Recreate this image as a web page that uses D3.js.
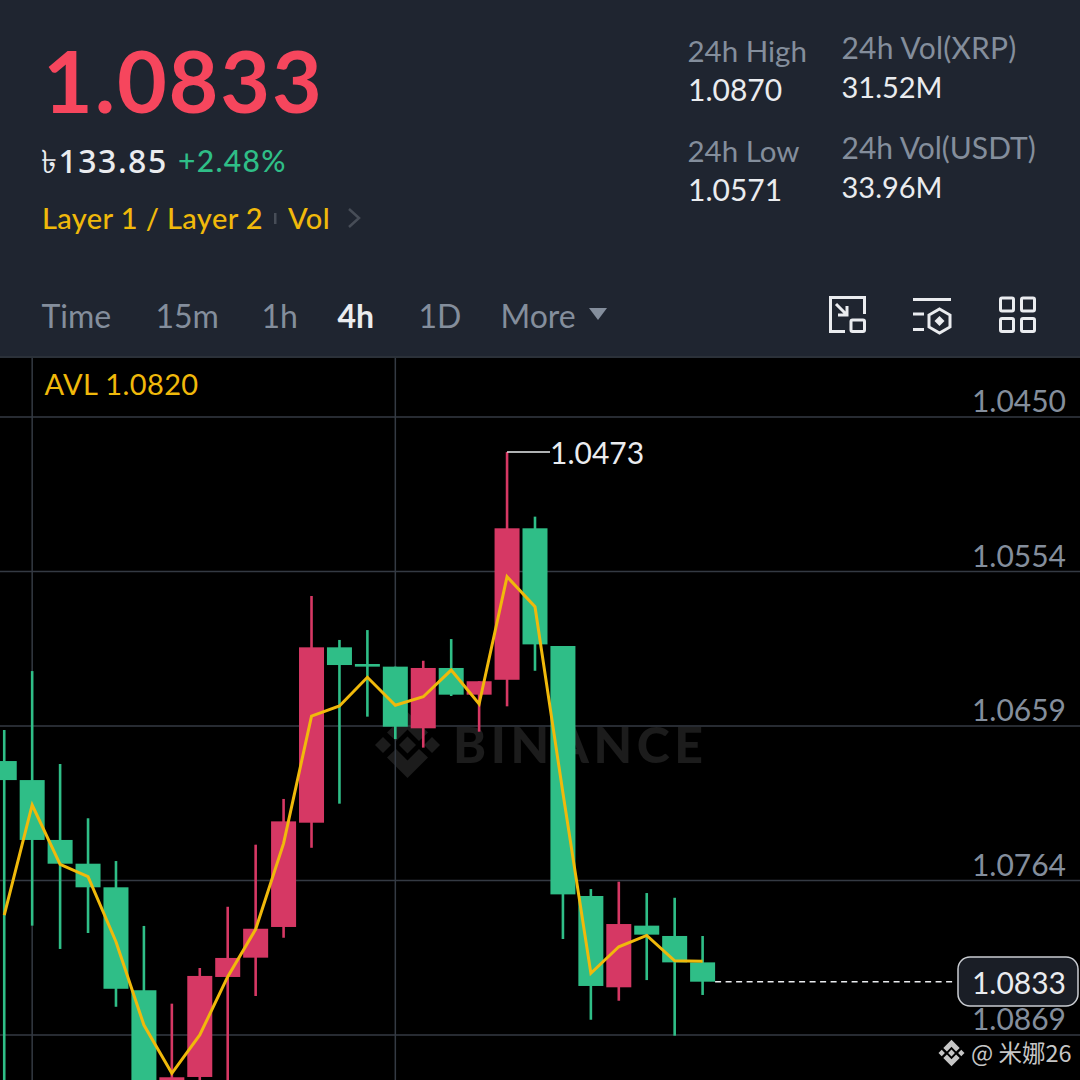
<!DOCTYPE html>
<html>
<head>
<meta charset="utf-8">
<script src="https://cdn.jsdelivr.net/npm/d3@7"></script>
<style>
  html, body { margin: 0; padding: 0; background: #000; }
  svg { display: block; }
  text { font-family: Lato, "Noto Sans", sans-serif; }
</style>
</head>
<body>
<svg id="chart"></svg>
<script>
// candle index, one per 4h bar
const categories = d3.range(26).map(i => "c" + i);
const opens = [1.06836,1.06965,1.07371,1.07532,1.07692,1.08390,1.0925,1.08978,1.08300,1.08169,1.07961,1.07254,1.06065,1.06178,1.06196,1.06614,1.06205,1.06386,1.06285,1.05258,1.06056,1.07751,1.08370,1.07952,1.08022,1.08201];
const closes = [1.06965,1.07371,1.07532,1.07692,1.08380,1.0910,1.08980,1.08293,1.08171,1.07973,1.07245,1.06065,1.06185,1.06196,1.06603,1.06205,1.06386,1.06295,1.05258,1.06045,1.07740,1.08361,1.07941,1.08013,1.08201,1.08332];
const highs = [1.0905,1.07952,1.08110,1.08002,1.08502,1.0925,1.0940,1.0912,1.0915,1.08429,1.08034,1.07424,1.07125,1.06535,1.06687,1.06745,1.06395,1.06637,1.06465,1.06224,1.08043,1.08590,1.08461,1.08321,1.08698,1.08422];
const lows = [1.06626,1.06226,1.06856,1.07224,1.07514,1.07954,1.08481,1.08239,1.07824,1.07403,1.07093,1.05717,1.06015,1.05948,1.06196,1.06156,1.06009,1.06295,1.04741,1.05179,1.06056,1.07704,1.07654,1.07731,1.07763,1.08022];
const avl = [1.07880,1.07134,1.07536,1.07620,1.08061,1.08626,1.08953,1.08693,1.08298,1.07977,1.07394,1.06531,1.06463,1.06268,1.06458,1.06400,1.06219,1.06449,1.05586,1.05790,1.07053,1.08275,1.08095,1.08018,1.08190,1.08194];

const gridValues = [1.0450,1.05548,1.06595,1.07643,1.0869];
const tickLabels = ["1.0450","1.0554","1.0659","1.0764","1.0869"];
const vGrid = ["c1","c14"];
const lastPrice = 1.08332;

const tabs = ["Time","15m","1h","4h","1D","More"];
const tabX = [42,156,262,338,419,501];

const width = 1080;
const height = 1080;
const chartTop = 358;
const red = "#d63864";
const green = "#2fbe87";
const yellow = "#f0b90b";
const gray = "#848e9c";
const white = "#eaecef";

const svg = d3.select("#chart").attr("width", width).attr("height", height);

const x = d3.scaleBand().domain(categories).range([-9.66, 716.5]).paddingInner(0.105).paddingOuter(0.05);
const y = d3.scaleLinear().domain([1.0450, 1.0869]).range([416.5, 1034.5]);
const cx = c => x(c) + x.bandwidth() / 2;

// panels
svg.append("rect").attr("width", width).attr("height", height).attr("fill", "#000");
svg.append("rect").attr("width", width).attr("height", chartTop - 2).attr("fill", "#1f2530");
svg.append("rect").attr("y", chartTop - 2).attr("width", width).attr("height", 2).attr("fill", "#2b3139");

const label = (txt, px, py, size, color, weight, anchor, spacing) =>
  svg.append("text").attr("x", px).attr("y", py).attr("font-size", size)
     .attr("fill", color).attr("font-weight", weight || 400)
     .attr("letter-spacing", spacing || 0)
     .attr("text-anchor", anchor || "start").text(txt);

// header
label("1.0833", 43, 113, 86, "#f6465d", 700, "start", 1.8);
label("৳133.85", 41, 173, 32, white, 500, "start", 1.5).style("font-family", "'Noto Sans', Lato, sans-serif");
label("+2.48%", 178, 172, 30, green, 500, "start", 1.3);
label("Layer 1 / Layer 2", 42, 229, 29, yellow, 500, "start", 0.4);
svg.append("rect").attr("x", 274).attr("y", 213).attr("width", 2.5).attr("height", 11).attr("fill", "#474d57");
label("Vol", 288, 229, 29, yellow, 500, "start", 0.3);
svg.append("path").attr("d", "M349 209L359 218L349 227").attr("fill", "none").attr("stroke", "#474d57").attr("stroke-width", 2.5);

label("24h High", 687.5, 62, 29.5, gray);
label("1.0870", 688, 101, 30, white);
label("24h Low", 687.5, 162, 29.5, gray);
label("1.0571", 688, 201, 30, white);
label("24h Vol(XRP)", 841.5, 59, 30, gray, 400, "start", 0.2);
label("31.52M", 841.5, 98, 29, white);
label("24h Vol(USDT)", 841.5, 159, 30, gray);
label("33.96M", 841.5, 198, 29, white);

tabs.forEach((t, i) => {
  const on = t === "4h";
  label(t, tabX[i] - 0.5, 328, 32, on ? white : gray, on ? 700 : 400);
});
svg.append("path").attr("d", "M589 308H607L598 320Z").attr("fill", gray);

// toolbar icons
const icons = svg.append("g").attr("fill", "none").attr("stroke", white).attr("stroke-width", 3);
icons.append("path").attr("d", "M845 331.5H830.5V297.5H864.5V314");
icons.append("rect").attr("x", 851).attr("y", 320).attr("width", 13.5).attr("height", 11.5).attr("rx", 1.5);
icons.append("path").attr("d", "M836 304L847 315M847 306V315H838");
icons.append("path").attr("d", "M913 299.5H951M913 314H924M913 329.5H924");
icons.append("path").attr("d", "M939.5 309L950 315V327L939.5 333L929 327V315Z");
icons.append("path").attr("d", "M939.5 316L944.5 321L939.5 326L934.5 321Z").attr("fill", white).attr("stroke", "none");
[[1000.5,298],[1021.5,298],[1000.5,318.5],[1021.5,318.5]].forEach(p => {
  icons.append("rect").attr("x", p[0]).attr("y", p[1]).attr("width", 13).attr("height", 13).attr("rx", 1.5);
});

// chart area is clipped, the candles run past the bottom edge
svg.append("clipPath").attr("id", "plot").append("rect").attr("y", chartTop).attr("width", width).attr("height", height - chartTop);
const plot = svg.append("g").attr("clip-path", "url(#plot)");

// watermark sits under the grid
const mark = plot.append("g").attr("fill", "#1c1c1c");
const logo = (g) => {
  g.append("path").attr("d", "M0 -33L20.5 -12.5L11.5 -4L0 -15.5L-11.5 -4L-20.5 -12.5Z");
  g.append("path").attr("d", "M0 33L20.5 12.5L11.5 4L0 15.5L-11.5 4L-20.5 12.5Z");
  g.append("path").attr("d", "M0 -8.5L8.5 0L0 8.5L-8.5 0Z");
  g.append("path").attr("d", "M-24.5 -8L-16.5 0L-24.5 8L-32.5 0Z");
  g.append("path").attr("d", "M24.5 -8L32.5 0L24.5 8L16.5 0Z");
};
mark.append("g").attr("transform", "translate(407.5,745)").call(logo);
mark.append("text").attr("x", 453).attr("y", 763).attr("font-size", 50).attr("font-weight", 900)
    .attr("letter-spacing", 4.6).text("BINANCE");

// grid and price axis
const yAxis = d3.axisRight(y).tickValues(gridValues).tickSize(width).tickFormat((d, i) => tickLabels[i]);
const axisG = plot.append("g").attr("class", "y-axis").call(yAxis);
axisG.select(".domain").remove();
axisG.selectAll("line").attr("stroke", "#343a43").attr("stroke-width", 1.5);
axisG.selectAll("text").attr("x", 1066).attr("dy", 0).attr("y", -5).attr("text-anchor", "end")
     .attr("font-size", 30).attr("fill", gray).attr("font-family", "Lato");

plot.selectAll("line.v").data(vGrid).enter().append("line").attr("class", "v")
    .attr("x1", cx).attr("x2", cx).attr("y1", chartTop).attr("y2", height)
    .attr("stroke", "#343a43").attr("stroke-width", 1.5);

// candles
const candle = categories.map((c, i) => ({ c, o: opens[i], h: highs[i], l: lows[i], cl: closes[i] }));
const colorOf = d => d.cl >= d.o ? green : red;

plot.selectAll("line.wick").data(candle).enter().append("line").attr("class", "wick")
    .attr("x1", d => cx(d.c)).attr("x2", d => cx(d.c))
    .attr("y1", d => y(d.l)).attr("y2", d => y(d.h))
    .attr("stroke", colorOf).attr("stroke-width", 2.6);

plot.selectAll("rect.body").data(candle).enter().append("rect").attr("class", "body")
    .attr("x", d => x(d.c)).attr("width", x.bandwidth())
    .attr("y", d => y(Math.min(d.o, d.cl)))
    .attr("height", d => Math.abs(y(d.o) - y(d.cl)))
    .attr("fill", colorOf);

// AVL line
const line = d3.line().x((d, i) => cx(categories[i])).y(d => y(d));
plot.append("path").datum(avl).attr("d", line)
    .attr("fill", "none").attr("stroke", yellow).attr("stroke-width", 3).attr("stroke-linejoin", "miter");

label("AVL 1.0820", 44.5, 395, 29, yellow, 400, "start", 0.4);

// highest point leader (axis is flipped, so it is the lowest value)
const topIdx = d3.minIndex(lows);
svg.append("line").attr("x1", cx(categories[topIdx])).attr("x2", 550)
   .attr("y1", y(lows[topIdx])).attr("y2", y(lows[topIdx]))
   .attr("stroke", white).attr("stroke-width", 1.5);
label("1.0473", 550, 464, 30, white);

// last price
const lastCandle = categories[categories.length - 1];
svg.append("line").attr("x1", x(lastCandle) + x.bandwidth()).attr("x2", 955)
   .attr("y1", y(lastPrice)).attr("y2", y(lastPrice))
   .attr("stroke", white).attr("stroke-width", 1.5).attr("stroke-dasharray", "6 4.5");
svg.append("rect").attr("x", 958).attr("y", 957).attr("width", 120).attr("height", 49).attr("rx", 12)
   .attr("fill", "#1a1e26").attr("stroke", "#c9ccd1").attr("stroke-width", 1.5);
label("1.0833", 1066, 994, 30, white, 400, "end");

// author tag
const tag = svg.append("g").attr("fill", "#c6c6c6");
tag.append("g").attr("transform", "translate(951.5,1053) scale(0.4)").call(logo);
label("@ 米娜26", 971, 1062, 23.5, "#c6c6c6").style("font-family", "'Noto Sans CJK SC', sans-serif");
</script>
</body>
</html>
